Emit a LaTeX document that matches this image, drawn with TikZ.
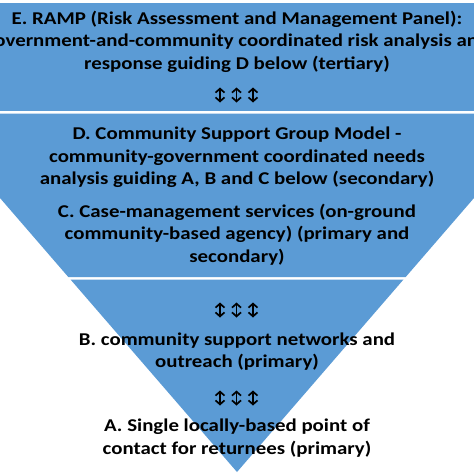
\documentclass[tikz,border=0pt]{standalone}
\usepackage{fontspec}
\setmainfont{Carlito}[FakeStretch=1.16]
\usetikzlibrary{arrows.meta}
\definecolor{bandblue}{RGB}{91,155,213}
\begin{document}
\begin{tikzpicture}[x=1pt,y=1pt,
  band/.style={fill=bandblue,draw=none},
  lbl/.style={font=\bfseries\fontsize{18}{22.5}\selectfont,align=center,inner sep=0pt,text=black},
  updown/.style={line width=1.7pt,{Straight Barb[length=4pt,width=9pt]}-{Straight Barb[length=4pt,width=9pt]}}]
\useasboundingbox (0,0) rectangle (474,-474);
\fill[white] (0,0) rectangle (474,-474);
% bands
\fill[band] (0,-2.5) rectangle (474,-111);
\fill[band] (0,-113.5) -- (474,-113.5) -- (474,-198) -- (405.7,-277) -- (68.3,-277) -- (0,-198) -- cycle;
\fill[band] (70.5,-279.5) -- (403.5,-279.5) -- (237,-472) -- cycle;
% texts
\node[lbl] (E) at (237,-41.5) {E. RAMP (Risk Assessment and Management Panel):\\government-and-community coordinated risk analysis and\\response guiding D below (tertiary)};
\node[lbl] (D) at (237,-157.5) {D. Community Support Group Model -\\community-government coordinated needs\\analysis guiding A, B and C below (secondary)};
\node[lbl] (C) at (237,-234.5) {C. Case-management services (on-ground\\community-based agency) (primary and\\secondary)};
\node[lbl] (B) at (237,-351.5) {B. community support networks and\\outreach (primary)};
\node[lbl] (A) at (237,-438) {A. Single locally-based point of\\contact for returnees (primary)};
% double arrows
\node[coordinate] (arrE) at (236.5,-95) {};
\node[coordinate] (arrC) at (236.5,-310) {};
\node[coordinate] (arrB) at (236.5,-398) {};
\foreach \g in {arrE,arrC,arrB}{
  \foreach \dx in {-16.5,0,16.5}{
    \draw[updown] ([xshift=\dx pt,yshift=7.5pt]\g) -- ([xshift=\dx pt,yshift=-7.5pt]\g);
  }
}
\end{tikzpicture}
\end{document}
